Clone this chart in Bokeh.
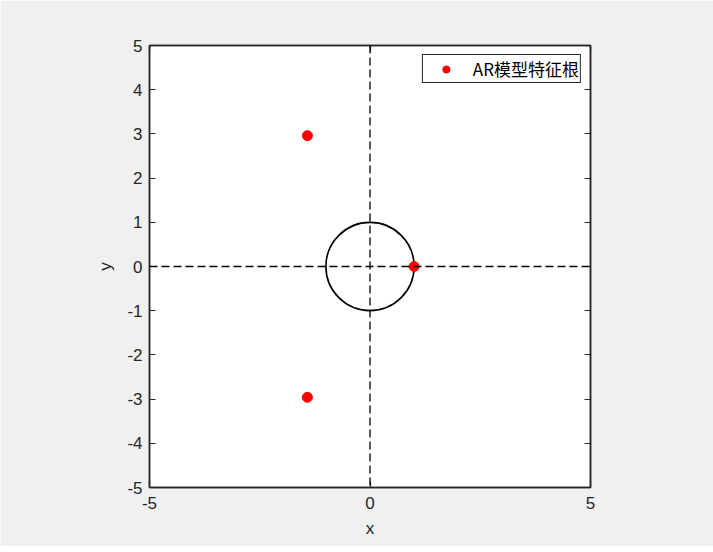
from bokeh.plotting import figure
from bokeh.models import Span, LinearAxis, FixedTicker, Legend, LegendItem, Range1d
from bokeh.embed import file_html
from bokeh.resources import INLINE

# Data: roots of AR model characteristic equation
root_x = [-1.42, -1.42, 1.0]
root_y = [2.96, -2.96, 0.0]
circle_x = [0.0]
circle_y = [0.0]
circle_r = [1.0]
x_ticks = [-5, 0, 5]
y_ticks = [-5, -4, -3, -2, -1, 0, 1, 2, 3, 4, 5]
legend_label = "AR模型特征根"

AXC = "#262626"
BG = "#f0f0f0"
FONT = "Liberation Sans"

p = figure(width=713, height=546, output_backend="svg", toolbar_location=None,
           x_range=Range1d(-5, 5), y_range=Range1d(-5, 5),
           min_border_left=149, min_border_right=123, min_border_top=45, min_border_bottom=59,
           background_fill_color="white", border_fill_color=BG)
p.grid.visible = False
p.outline_line_color = AXC
p.outline_line_width = 1.5

def style_axis(ax, ticks, show_labels=True):
    ax.ticker = FixedTicker(ticks=ticks)
    ax.major_tick_in = 6
    ax.major_tick_out = 0
    ax.minor_tick_line_color = None
    ax.major_tick_line_color = AXC
    ax.major_tick_line_width = 1.2
    ax.axis_line_color = AXC
    ax.axis_line_width = 1.5
    ax.major_label_text_font = FONT
    ax.major_label_text_font_size = "17px"
    ax.major_label_text_color = AXC
    ax.axis_label_text_font = FONT
    ax.axis_label_text_font_size = "17px"
    ax.axis_label_text_font_style = "normal"
    ax.axis_label_text_color = AXC
    if show_labels:
        ax.major_label_overrides = {t: str(t) for t in ticks}
    else:
        ax.major_label_overrides = {t: "" for t in ticks}
        ax.major_label_standoff = 0

style_axis(p.xaxis[0], x_ticks)
style_axis(p.yaxis[0], y_ticks)
p.xaxis[0].axis_label = "x"
p.yaxis[0].axis_label = "y"
p.xaxis[0].major_label_standoff = 9
p.yaxis[0].major_label_standoff = 7
p.xaxis[0].axis_label_standoff = 7
p.yaxis[0].axis_label_standoff = 9

ax_r = LinearAxis()
style_axis(ax_r, y_ticks, show_labels=False)
p.add_layout(ax_r, "right")
ax_t = LinearAxis()
style_axis(ax_t, x_ticks, show_labels=False)
p.add_layout(ax_t, "above")

# dashed axes lines
p.add_layout(Span(location=0, dimension="height", line_color="black", line_width=1.3, line_dash="8 4"))
p.add_layout(Span(location=0, dimension="width", line_color="black", line_width=1.3, line_dash="8 4"))

# unit circle
p.circle(x=circle_x, y=circle_y, radius=circle_r, fill_color=None, line_color="black", line_width=1.6)

# small copy of the roots used as legend glyph (hidden under the big dots)
leg_r = p.scatter(x=root_x, y=root_y, size=7, marker="circle", fill_color="#ff0000", line_color="#ff0000")
# roots
p.scatter(x=root_x, y=root_y, size=10, marker="circle", fill_color="#ff0000", line_color="#ff0000")

legend = Legend(items=[LegendItem(label=legend_label, renderers=[leg_r])],
                location="top_right", margin=9, padding=1, glyph_width=44, glyph_height=18,
                label_standoff=5, label_height=18, label_text_font="Noto Sans CJK SC",
                label_text_font_size="17px", label_text_line_height=1.0,
                label_text_color="black", border_line_color=AXC, border_line_width=1.5,
                border_line_alpha=1.0, background_fill_color="white", background_fill_alpha=1.0)
p.add_layout(legend)

open("out.html", "w").write(file_html(p, INLINE))
